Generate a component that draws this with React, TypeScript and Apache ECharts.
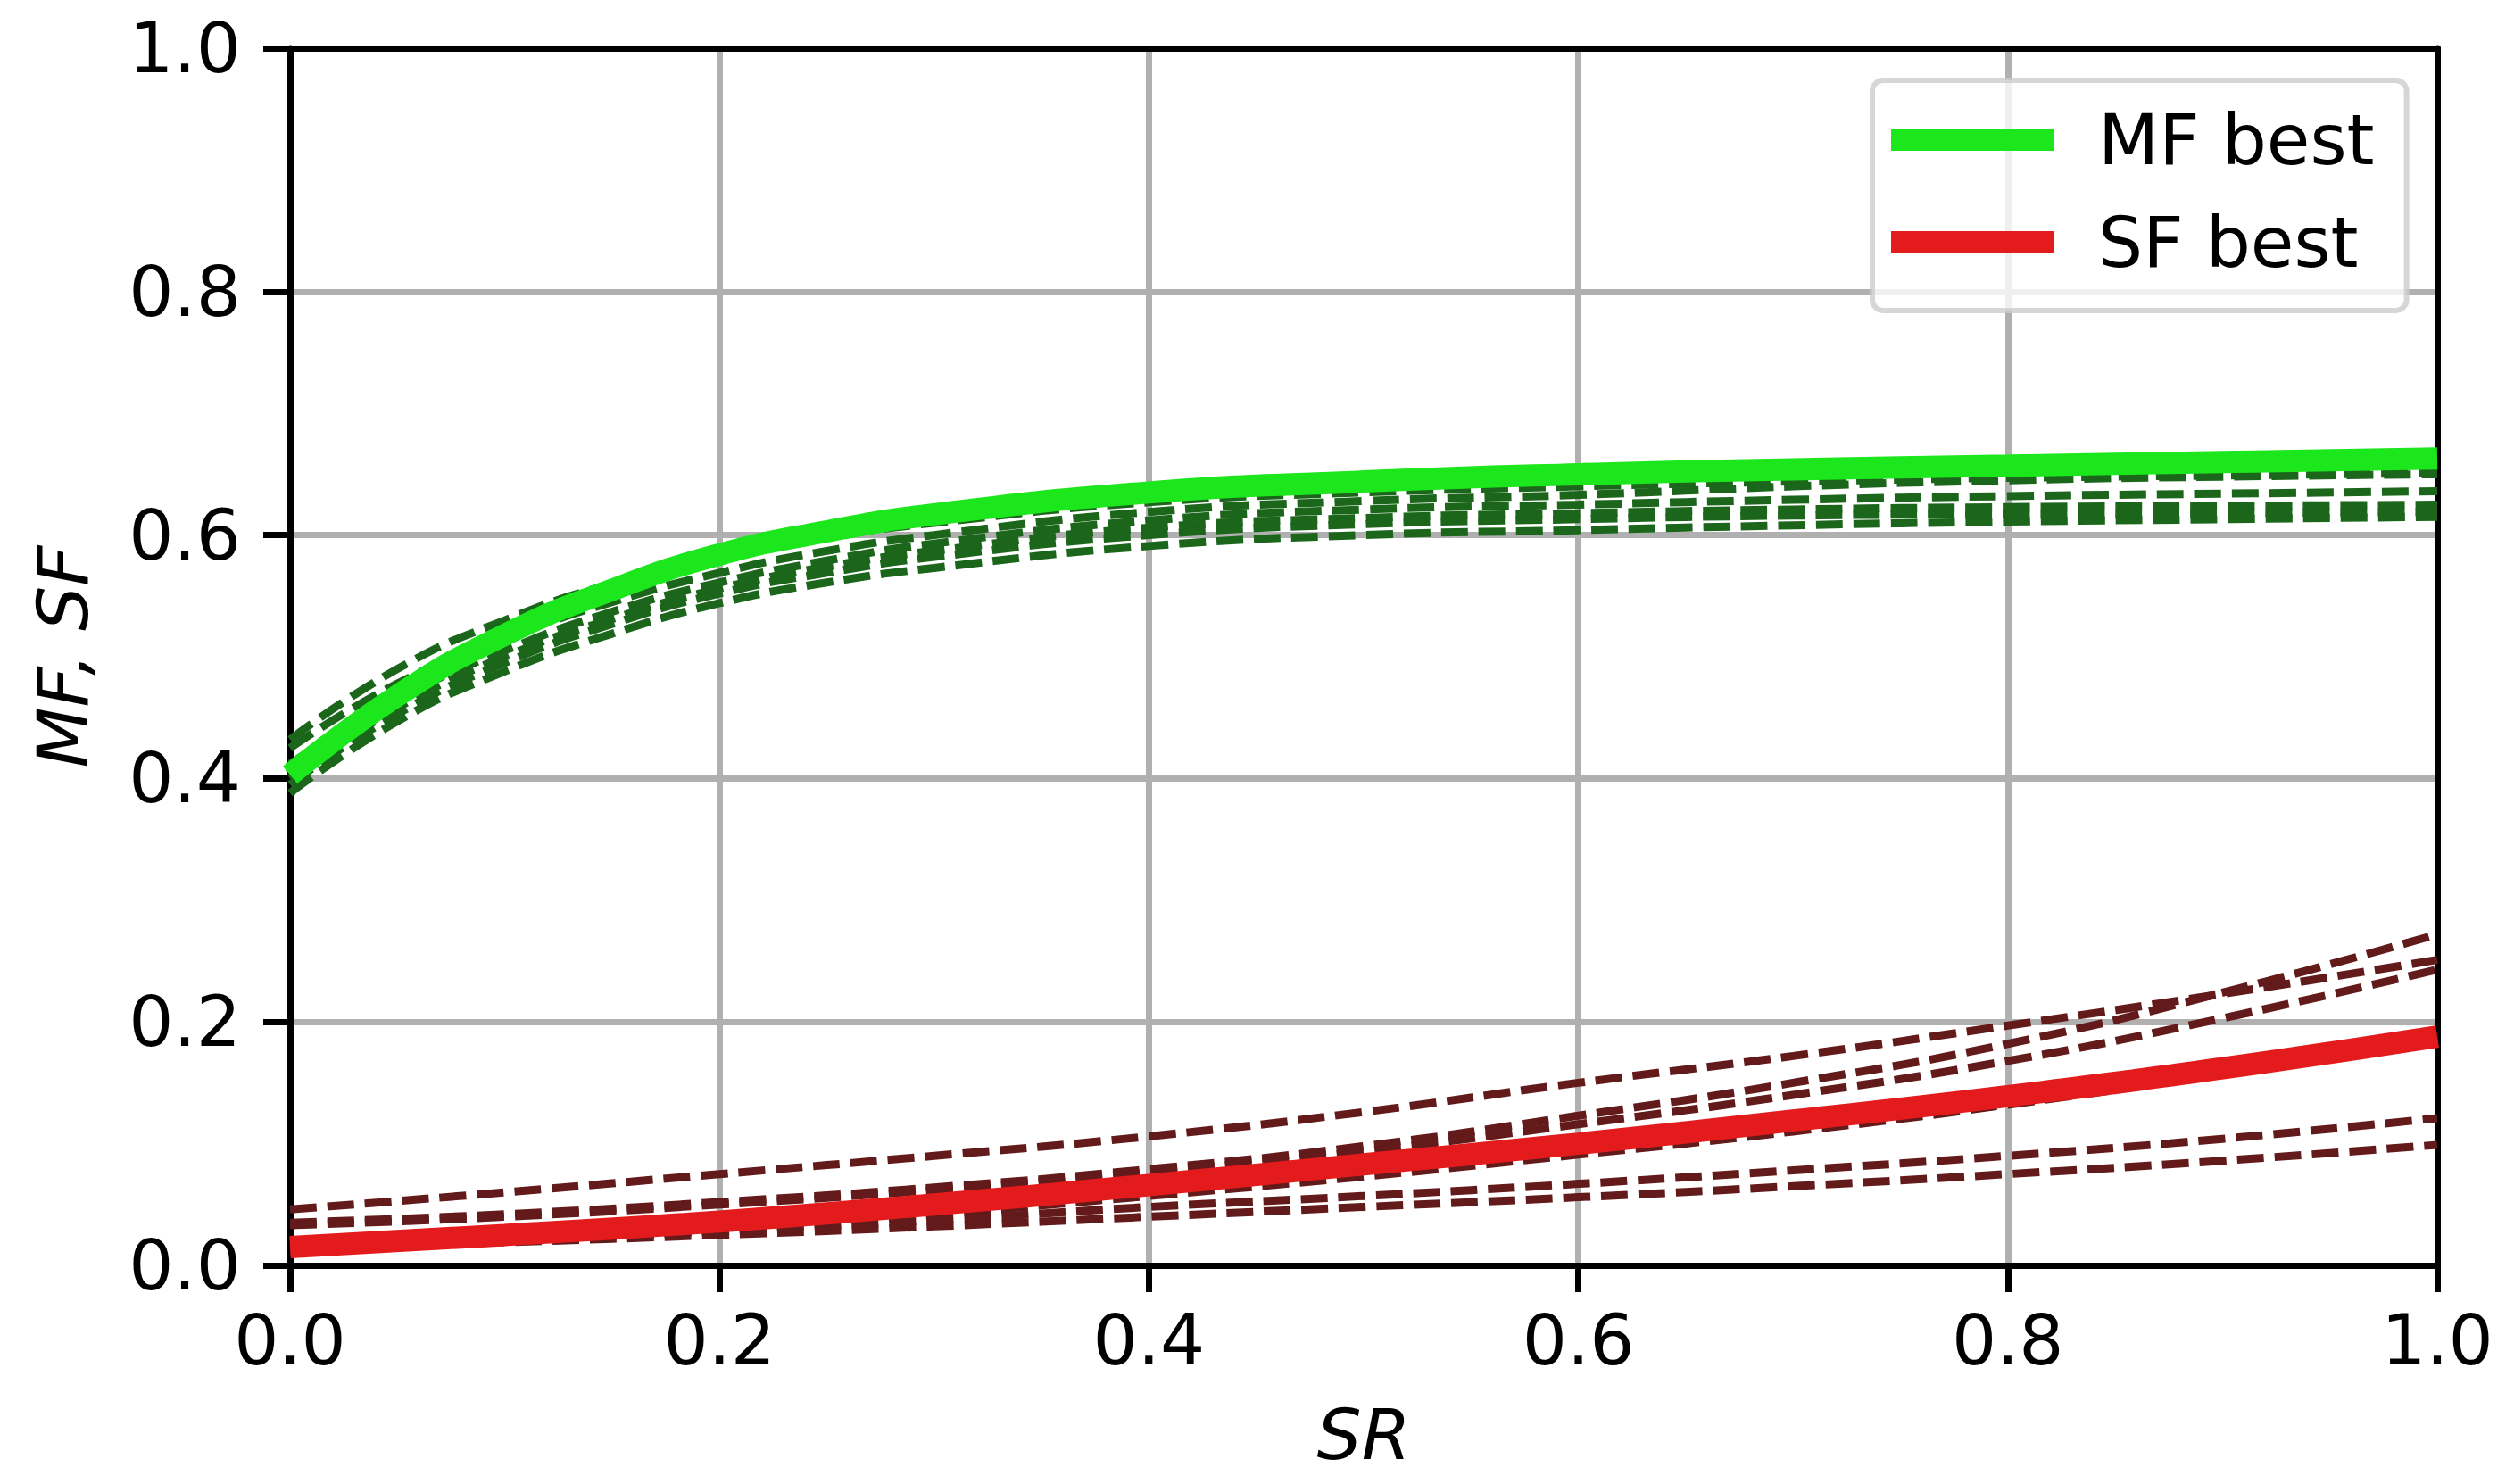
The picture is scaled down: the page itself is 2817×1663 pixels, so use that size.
import React, { useEffect, useRef } from "react";
import * as echarts from "echarts";

// ---- data ----
const xMF = [0, 0.05, 0.1, 0.15, 0.2, 0.25, 0.3, 0.4, 0.5, 0.6, 0.7, 0.8, 0.9, 1.0];
const mfBest = [0.403, 0.468, 0.518, 0.555, 0.584, 0.603, 0.617, 0.635, 0.644, 0.65, 0.654, 0.657, 0.66, 0.663];
const mfRun1 = [0.432, 0.49, 0.53, 0.56, 0.581, 0.598, 0.61, 0.627, 0.635, 0.64, 0.644, 0.647, 0.649, 0.651];
const mfRun2 = [0.425, 0.478, 0.515, 0.545, 0.569, 0.587, 0.6, 0.619, 0.628, 0.633, 0.64, 0.645, 0.648, 0.65];
const mfRun3 = [0.412, 0.465, 0.505, 0.537, 0.561, 0.579, 0.593, 0.612, 0.621, 0.625, 0.629, 0.632, 0.634, 0.636];
const mfRun4 = [0.4, 0.458, 0.5, 0.531, 0.556, 0.574, 0.587, 0.606, 0.614, 0.618, 0.621, 0.623, 0.624, 0.625];
const mfRun5 = [0.395, 0.453, 0.495, 0.527, 0.552, 0.569, 0.582, 0.6, 0.609, 0.613, 0.616, 0.617, 0.618, 0.619];
const mfRun6 = [0.388, 0.447, 0.488, 0.519, 0.544, 0.561, 0.573, 0.591, 0.6, 0.604, 0.608, 0.611, 0.613, 0.615];

const xSF = [0, 0.1, 0.2, 0.3, 0.4, 0.5, 0.6, 0.7, 0.8, 0.9, 1.0];
const sfBest = [0.015, 0.025, 0.036, 0.05, 0.066, 0.083, 0.1, 0.119, 0.139, 0.162, 0.188];
const sfRun1 = [0.046, 0.06, 0.075, 0.09, 0.106, 0.126, 0.15, 0.172, 0.197, 0.223, 0.251];
const sfRun2 = [0.035, 0.042, 0.052, 0.064, 0.079, 0.098, 0.123, 0.15, 0.182, 0.224, 0.272];
const sfRun3 = [0.033, 0.04, 0.05, 0.062, 0.077, 0.094, 0.116, 0.14, 0.168, 0.203, 0.243];
const sfRun4 = [0.013, 0.02, 0.029, 0.042, 0.057, 0.073, 0.091, 0.11, 0.132, 0.158, 0.189];
const sfRun5 = [0.016, 0.021, 0.028, 0.037, 0.048, 0.057, 0.067, 0.078, 0.09, 0.104, 0.121];
const sfRun6 = [0.014, 0.019, 0.025, 0.032, 0.04, 0.048, 0.056, 0.065, 0.075, 0.086, 0.099];

const xTicks = [0, 0.2, 0.4, 0.6, 0.8, 1.0];

const mfRuns = [mfRun1, mfRun2, mfRun3, mfRun4, mfRun5, mfRun6];
const sfRuns = [sfRun1, sfRun2, sfRun3, sfRun4, sfRun5, sfRun6];

const GREEN = "#1ce61c";
const DARK_GREEN = "#1b661b";
const RED = "#e41b1d";
const DARK_RED = "#621a1a";
const FONT = "DejaVu Sans";
const FS = 79;

const pair = (xs: number[], ys: number[]) => xs.map((x, i) => [x, ys[i]]);

export default function App() {
  const ref = useRef<HTMLDivElement>(null);
  useEffect(() => {
    if (!ref.current) return;
    const chart = echarts.init(ref.current, null, { renderer: "svg" });
    const dashed = (name: string, xs: number[], ys: number[], color: string) => ({
      name,
      type: "line",
      data: pair(xs, ys),
      showSymbol: false,
      symbol: "none",
      smooth: 0.5,
      lineStyle: { color, width: 9, type: [30, 12] },
      itemStyle: { color },
      z: 2,
    });
    const option: any = {
      animation: false,
      backgroundColor: "#ffffff",
      grid: { left: 325, right: 86, top: 54, bottom: 245, containLabel: false },
      xAxis: [
        {
          type: "value",
          min: 0,
          max: 1,
          interval: 0.2,
          name: "SR",
          nameLocation: "middle",
          nameGap: 150,
          nameTextStyle: { fontFamily: FONT, fontSize: FS, fontStyle: "italic", color: "#000" },
          axisLine: { show: true, onZero: false, lineStyle: { color: "#000", width: 7 } },
          axisTick: { show: true, length: 30, lineStyle: { color: "#000", width: 7 } },
          axisLabel: {
            fontFamily: FONT,
            fontSize: FS,
            color: "#000",
            margin: 44,
            formatter: (v: number) => (xTicks.some((t) => Math.abs(t - v) < 1e-9) ? v.toFixed(1) : ""),
          },
          splitLine: { show: true, lineStyle: { color: "#b0b0b0", width: 7 } },
        },
        {
          type: "value",
          min: 0,
          max: 1,
          position: "top",
          axisLine: { show: true, onZero: false, lineStyle: { color: "#000", width: 7 } },
          axisTick: { show: false },
          axisLabel: { show: false },
          splitLine: { show: false },
        },
      ],
      yAxis: [
        {
          type: "value",
          min: 0,
          max: 1,
          interval: 0.2,
          name: "MF, SF",
          nameLocation: "middle",
          nameGap: 215,
          nameTextStyle: { fontFamily: FONT, fontSize: FS, fontStyle: "italic", color: "#000" },
          axisLine: { show: true, onZero: false, lineStyle: { color: "#000", width: 7 } },
          axisTick: { show: true, length: 30, lineStyle: { color: "#000", width: 7 } },
          axisLabel: {
            fontFamily: FONT,
            fontSize: FS,
            color: "#000",
            margin: 55,
            formatter: (v: number) => v.toFixed(1),
          },
          splitLine: { show: true, lineStyle: { color: "#b0b0b0", width: 7 } },
        },
        {
          type: "value",
          min: 0,
          max: 1,
          position: "right",
          axisLine: { show: true, onZero: false, lineStyle: { color: "#000", width: 7 } },
          axisTick: { show: false },
          axisLabel: { show: false },
          splitLine: { show: false },
        },
      ],
      legend: {
        show: true,
        orient: "vertical",
        left: 2098,
        top: 90,
        padding: [27, 36, 37, 21],
        itemGap: 36,
        itemWidth: 183,
        itemHeight: 25,
        backgroundColor: "rgba(255,255,255,0.8)",
        borderColor: "rgba(204,204,204,0.8)",
        borderWidth: 6,
        borderRadius: 12,
        textStyle: { fontFamily: FONT, fontSize: FS, color: "#000", padding: [0, 0, 0, 44] },
        data: [
          { name: "MF best", icon: "rect" },
          { name: "SF best", icon: "rect" },
        ],
      },
      series: [
        ...mfRuns.map((ys, i) => dashed(`MF run ${i + 1}`, xMF, ys, DARK_GREEN)),
        ...sfRuns.map((ys, i) => dashed(`SF run ${i + 1}`, xSF, ys, DARK_RED)),
        {
          name: "MF best",
          type: "line",
          data: pair(xMF, mfBest),
          showSymbol: false,
          symbol: "none",
          smooth: 0.5,
          lineStyle: { color: GREEN, width: 25 },
          itemStyle: { color: GREEN },
          z: 3,
        },
        {
          name: "SF best",
          type: "line",
          data: pair(xSF, sfBest),
          showSymbol: false,
          symbol: "none",
          smooth: 0.5,
          lineStyle: { color: RED, width: 25 },
          itemStyle: { color: RED },
          z: 3,
        },
      ],
    };
    chart.setOption(option);
    return () => chart.dispose();
  }, []);
  return (
    <div
      ref={ref}
      style={{ position: "absolute", left: 0, top: 0, width: 2817, height: 1663, background: "#fff" }}
    />
  );
}
